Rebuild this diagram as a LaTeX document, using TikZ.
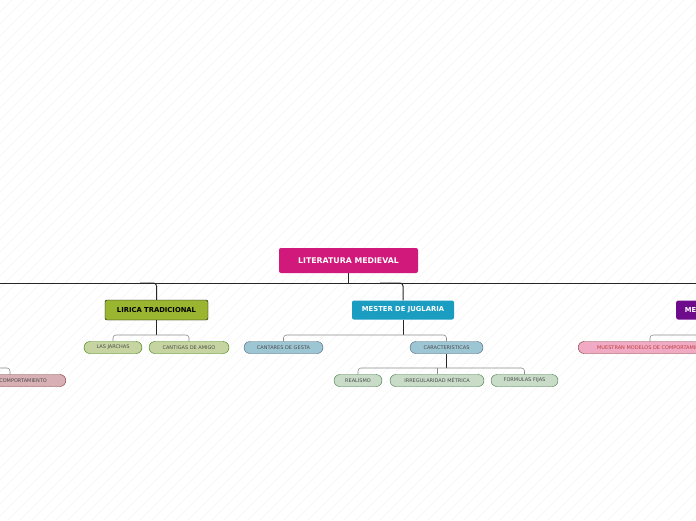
\documentclass[tikz,border=0pt]{standalone}
\usepackage{fontspec}
\setmainfont{DejaVu Sans}
\begin{document}
\begin{tikzpicture}[x=1pt,y=-1pt,
 main/.style={rounded corners=2pt,font=\bfseries\fontsize{6.8}{7}\selectfont,text=white,inner sep=0pt,minimum height=19pt},
 sub/.style={rounded corners=6pt,draw=#1!70!black,font=\fontsize{5}{5.5}\selectfont,text=black!70,inner sep=0pt,minimum height=12pt},
 conn/.style={draw=black!85,line width=1pt,rounded corners=3pt},
 sconn/.style={draw=black!45,line width=0.6pt,rounded corners=3pt}]
\useasboundingbox (0,0) rectangle (696,520);
\clip (0,0) rectangle (696,520);
\fill[white] (0,0) rectangle (696,520);
\foreach \i in {-520,-508,...,696} \draw[black!4,line width=0.4pt] (\i,520) -- (\i+520,0);
\node[main,fill={rgb,255:red,208;green,25;blue,122},minimum width=139pt,minimum height=25pt,font=\bfseries\fontsize{7.8}{8}\selectfont] (root) at (348.5,260.5) {LITERATURA MEDIEVAL};
\node[main,fill={rgb,255:red,154;green,181;blue,47},draw=black,text=black,minimum width=103pt,minimum height=20pt] (lir) at (156.5,310) {LIRICA TRADICIONAL};
\node[main,fill={rgb,255:red,26;green,157;blue,192},minimum width=102pt] (jug) at (403,310) {MESTER DE JUGLARIA};
\node[main,fill={rgb,255:red,110;green,10;blue,140},anchor=west,minimum width=100pt] (cle) at (676,310) {MESTER DE CLERECIA};
\coordinate (L) at (0,283); \coordinate (R) at (696,283);
\draw[conn] (root.south) -- (348.5,283);
\draw[conn] (L) -- (R);
\draw[conn] (140,283) -| (lir.north);
\draw[conn] (380,283) -| (jug.north);
\node[sub=green!40!olive,fill={rgb,255:red,197;green,212;blue,160},minimum width=58pt] (jar) at (113,347.5) {LAS JARCHAS};
\node[sub=green!40!olive,fill={rgb,255:red,197;green,212;blue,160},minimum width=80pt] (can) at (189,347.5) {CANTIGAS DE AMIGO};
\node[sub=cyan!50!black,fill={rgb,255:red,157;green,198;blue,212},minimum width=79pt] (ges) at (283.5,347.5) {CANTARES DE GESTA};
\node[sub=cyan!50!black,fill={rgb,255:red,157;green,198;blue,212},minimum width=73pt] (car) at (446.5,347.5) {CARACTERISTICAS};
\node[sub=green!30!gray,fill={rgb,255:red,200;green,220;blue,200},minimum width=48pt] (rea) at (358,380.5) {REALISMO};
\node[sub=green!30!gray,fill={rgb,255:red,200;green,220;blue,200},minimum width=94pt] (irr) at (437,380.5) {IRREGULARIDAD MÉTRICA};
\node[sub=green!30!gray,fill={rgb,255:red,200;green,220;blue,200},minimum width=67pt] (for) at (524.5,380.5) {FORMULAS FIJAS};
\node[sub=red!40!gray,fill={rgb,255:red,240;green,170;blue,195},text=red!50!gray,anchor=west,minimum width=150pt] (mu1) at (578,347.5) {MUESTRAN MODELOS DE COMPORTAMIENTO};
\node[sub=red!40!gray,fill={rgb,255:red,215;green,175;blue,180},anchor=east,minimum width=150pt] (mu2) at (66,380.5) {MUESTRAN MODELOS DE COMPORTAMIENTO};
\draw[conn,line width=0.8pt] (lir.south) -- (156.5,335);
\draw[sconn] (jar.north) |- (156.5,335) -| (can.north);
\draw[conn,line width=0.8pt] (jug.south) -- (403,335);
\draw[sconn] (ges.north) |- (403,335) -| (car.north);
\draw[conn,line width=0.8pt] (car.south) -- (446.5,368);
\draw[sconn] (rea.north) |- (446.5,368) -| (for.north);
\draw[sconn] (irr.north) -- (437,368);
\draw[sconn] (650,347.5-6) |- (696,335);
\draw[sconn] (0,368) -| (10,380.5-6);
\end{tikzpicture}
\end{document}
